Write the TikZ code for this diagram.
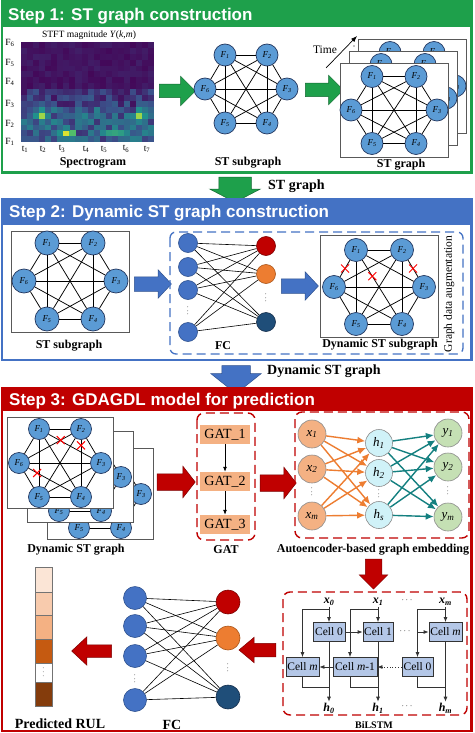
\documentclass[tikz,border=0pt]{standalone}
\usepackage{fontspec}
\setmainfont{Liberation Serif}
\setsansfont{Liberation Sans}
\usetikzlibrary{shapes.arrows,shapes.misc,arrows.meta}
\definecolor{sgreen}{RGB}{30,160,75}
\definecolor{sgreenD}{RGB}{20,105,50}
\definecolor{sblue}{RGB}{68,114,196}
\definecolor{sblueD}{RGB}{47,82,143}
\definecolor{sred}{RGB}{192,0,0}
\definecolor{sredD}{RGB}{125,0,0}
\definecolor{nblue}{RGB}{91,155,213}
\definecolor{nline}{RGB}{35,55,95}
\definecolor{salmon}{RGB}{244,177,131}
\definecolor{aorange}{RGB}{237,125,49}
\definecolor{ateal}{RGB}{20,128,128}
\definecolor{hcyan}{RGB}{208,242,248}
\definecolor{ygreen}{RGB}{197,224,180}
\definecolor{dblue}{RGB}{31,78,121}
\definecolor{cellblue}{RGB}{180,199,231}
\definecolor{vc0}{RGB}{68,1,84}
\definecolor{vc1}{RGB}{59,82,139}
\definecolor{vc2}{RGB}{33,145,140}
\definecolor{vc3}{RGB}{94,201,98}
\definecolor{vc4}{RGB}{253,231,37}
\definecolor{rul1}{RGB}{251,229,214}
\definecolor{rul2}{RGB}{248,203,173}
\definecolor{rul3}{RGB}{244,177,131}
\definecolor{rul4}{RGB}{197,90,17}
\definecolor{rul6}{RGB}{132,60,12}
\newcommand\fsz[1]{\fontsize{#1}{#1}\selectfont}
\newcommand\specset[1]{%
  \ifdim#1pt<0.25pt
    \pgfmathsetmacro\spp{#1*400}\colorlet{spec}{vc1!\spp!vc0}%
  \else\ifdim#1pt<0.5pt
    \pgfmathsetmacro\spp{(#1-0.25)*400}\colorlet{spec}{vc2!\spp!vc1}%
  \else\ifdim#1pt<0.75pt
    \pgfmathsetmacro\spp{(#1-0.5)*400}\colorlet{spec}{vc3!\spp!vc2}%
  \else
    \pgfmathsetmacro\spp{min(100,(#1-0.75)*400)}\colorlet{spec}{vc4!\spp!vc3}%
  \fi\fi\fi}
\tikzset{
  hdr/.style={anchor=base west, text=white, font=\sffamily\bfseries\fsz{17}, inner sep=0pt},
  lbl/.style={font=\bfseries\fsz{12}, inner sep=0pt},
  biglbl/.style={font=\bfseries\fsz{14}, inner sep=0pt},
  tick/.style={font=\fsz{9.5}, inner sep=0pt},
  fnode/.style={circle, fill=nblue, draw=nline, line width=0.7pt, minimum size=21pt, inner sep=0pt, font=\itshape\fsz{9}},
  gedge/.style={line width=0.75pt, black},
  framebox/.style={draw=black!65, fill=white, line width=0.7pt},
  xmark/.style={cross out, draw=red, line width=1pt, minimum size=7pt, inner sep=0pt},
  garrow/.style={single arrow, fill=sgreen, draw=sgreenD, line width=0.5pt, inner sep=0pt},
  barrow/.style={single arrow, fill=sblue, draw=sblueD, line width=0.5pt, inner sep=0pt},
  rarrow/.style={single arrow, fill=sred, draw=sredD, line width=0.5pt, inner sep=0pt},
  bdash/.style={draw=sblue, line width=1.3pt, dash pattern=on 9pt off 5pt, rounded corners=6pt},
  rdash/.style={draw=sred, line width=1.4pt, dash pattern=on 9pt off 5pt, rounded corners=7pt},
  fcl/.style={circle, fill=sblue, draw=sblueD, line width=0.6pt, minimum size=19pt, inner sep=0pt},
  fcedge/.style={line width=0.6pt, black},
  gatbox/.style={fill=salmon, minimum width=50pt, minimum height=19pt, inner sep=0pt, font=\fsz{14}},
  aex/.style={circle, fill=salmon, draw=black!45, line width=0.6pt, minimum size=28pt, inner sep=0pt, font=\itshape\fsz{13}},
  aeh/.style={aex, fill=hcyan, minimum size=27pt},
  aey/.style={aex, fill=ygreen},
  oarr/.style={aorange, line width=1.4pt, -{Latex[length=8pt,width=7pt]}},
  tarr/.style={ateal, line width=1.4pt, -{Latex[length=8pt,width=7pt]}},
  cellb/.style={draw=black!80, fill=cellblue, line width=0.8pt, minimum height=19pt, inner sep=0pt, font=\fsz{11.5}},
  lstm/.style={line width=0.8pt, black!80},
  iolbl/.style={font=\bfseries\itshape\fsz{12}, inner sep=1pt},
  dotsl/.style={font=\fsz{9}, inner sep=0pt},
  vdotsl/.style={font=\fsz{8}, inner sep=0pt, rotate=90},
}
\newcommand\stg[7]{%
  \node[fnode, minimum size=#7pt] (#1a) at ({#2-#4},{#3-#6}) {F\textsubscript{1}};
  \node[fnode, minimum size=#7pt] (#1b) at ({#2+#4},{#3-#6}) {F\textsubscript{2}};
  \node[fnode, minimum size=#7pt] (#1c) at ({#2+#5},{#3}) {F\textsubscript{3}};
  \node[fnode, minimum size=#7pt] (#1d) at ({#2+#4},{#3+#6}) {F\textsubscript{4}};
  \node[fnode, minimum size=#7pt] (#1e) at ({#2-#4},{#3+#6}) {F\textsubscript{5}};
  \node[fnode, minimum size=#7pt] (#1f) at ({#2-#5},{#3}) {F\textsubscript{6}};
  \foreach \gA/\gB in {a/b,b/c,c/d,d/e,e/f,f/a,a/c,a/d,a/e,b/d,b/e,b/f,c/e,c/f,d/f}
    {\draw[gedge] (#1\gA) -- (#1\gB);}%
}
\begin{document}
\begin{tikzpicture}[x=1pt,y=-1pt,>={Latex[length=5pt,width=4pt]}]
\useasboundingbox (0,0) rectangle (474,733);
\fill[white] (0,0) rectangle (474,733);

%% ================= STEP 1 =================
\draw[sgreen, line width=2.4pt] (2,1.5) rectangle (471.5,172.5);
\fill[sgreen] (0.8,0.3) rectangle (472.7,27);
\node[hdr] (hd1) at (8,20.7) {Step 1: ST graph construction};

% spectrogram
\pgfmathsetseed{42}
\foreach \ci in {0,...,21}{
  \foreach \cj in {0,...,16}{
    \pgfmathsetmacro\tv{\cj<8 ? 0.02+0.07*rnd : (\cj<11 ? 0.05+0.25*rnd : 0.15+0.3*rnd)}
    \specset{\tv}
    \fill[spec] ({21+\ci*6.05},{42+\cj*5.9}) rectangle ++(6.15,6.0);
  }
}
\foreach \ci/\cj/\tv in {3/12/0.85, 3/11/0.5, 2/12/0.5, 4/12/0.45, 3/13/0.42, 7/15/0.95, 8/15/0.7, 6/15/0.5, 7/14/0.45,
  19/12/0.85, 19/11/0.5, 18/12/0.45, 20/12/0.5, 19/13/0.45, 14/15/0.56, 15/15/0.58, 16/15/0.55, 13/15/0.46, 17/15/0.45}{
  \specset{\tv}
  \fill[spec] ({21+\ci*6.05},{42+\cj*5.9}) rectangle ++(6.15,6.0);
}
\node[font=\fsz{9.6}, inner sep=0pt] (stft) at (89,35) {STFT magnitude \textit{Y}(\textit{k},\textit{m})};
\foreach \k/\yy in {6/43,5/63,4/82,3/104,2/124,1/142} \node[tick] (fl\k) at (10,\yy) {F\textsubscript{\k}};
\foreach \k/\xx in {1/25,2/43,3/62,4/86,5/104,6/126,7/147} \node[tick] (tl\k) at (\xx,149) {t\textsubscript{\k}};
\node[lbl] (lspec) at (93,163) {Spectrogram};

\node[garrow, minimum height=36pt, inner ysep=6.5pt, single arrow head extend=8pt] (ga1) at (174,91) {};

\stg{sa}{246}{89}{21}{41}{34}{22}
\node[lbl] (lsa) at (248,163) {ST subgraph};

\node[garrow, minimum height=38pt, inner ysep=6.5pt, single arrow head extend=8pt] (ga2) at (321,90) {};

\filldraw[framebox] (358,39) rectangle ++(108,94);
\stg{gk}{412}{86}{22}{43}{33.5}{22}
\filldraw[framebox] (349,51) rectangle ++(108,94);
\stg{gm}{403}{98}{22}{43}{33.5}{22}
\filldraw[framebox] (340,63) rectangle ++(108,94);
\stg{gf}{394}{110}{22}{43}{33.5}{22}
\coordinate (tm0) at (326,68);
\coordinate (tm1) at (357,36);
\draw[line width=0.7pt, -{Latex[length=6pt,width=4.5pt]}] (tm0) -- (tm1);
\node[font=\fsz{11.5}, inner sep=0pt] (ltime) at (325,50) {Time};
\fill (354,41) circle (0.7) (354,46) circle (0.7);
\node[lbl] (lsg) at (401,165) {ST graph};

% between 1 and 2
\node[garrow, rotate=-90, minimum height=25pt, inner ysep=16pt, single arrow head extend=9pt, single arrow tip angle=125] (gd) at (235,185.5) {};
\node[biglbl, anchor=west] (lstg) at (268,186) {ST graph};

%% ================= STEP 2 =================
\draw[sblue, line width=2.4pt] (2,199.5) rectangle (471.5,360);
\fill[sblue] (0.8,198.3) rectangle (472.7,225);
\node[hdr] (hd2) at (9,217.5) {Step 2: Dynamic ST graph construction};

\draw[framebox] (11,231) rectangle (129,332);
\stg{sb}{70}{281}{23}{46}{38}{24}
\node[lbl] (lsb) at (69,346) {ST subgraph};

\node[barrow, minimum height=37pt, inner ysep=7pt, single arrow head extend=7pt, single arrow tip angle=94] (ba1) at (149.5,284) {};

\draw[bdash] (170,232) rectangle (463,354);
\foreach \nm/\yy in {la/243, lb/267, lc/290, ld/332} \node[fcl] (\nm) at (188,\yy) {};
\node[vdotsl] (ldots) at (188,311) {$\cdots$};
\node[fcl, fill=sred, draw=sredD] (ra) at (266,246) {};
\node[fcl, fill=aorange, draw={rgb,255:red,170;green,85;blue,25}] (rb) at (266,274) {};
\node[fcl, fill=dblue, draw={rgb,255:red,20;green,45;blue,75}] (rc) at (266,322) {};
\node[vdotsl] (rdots) at (266,298) {$\cdots$};
\foreach \aS in {la,lb,lc,ld} \foreach \aT in {ra,rb,rc} \draw[fcedge] (\aS) -- (\aT);
\node[lbl] (lfc) at (223,346) {FC};

\node[barrow, minimum height=37pt, inner ysep=7pt, single arrow head extend=7pt, single arrow tip angle=94] (ba2) at (296.5,286) {};

\draw[framebox] (320,235) rectangle (438,337);
\stg{dy}{379}{287}{23}{45}{37}{23}
\path (dyf) -- node[xmark, pos=0.5]{} (dya);
\path (dya) -- node[xmark, pos=0.3]{} (dyd);
\path (dyb) -- node[xmark, pos=0.5]{} (dyc);
\node[lbl] (ldy) at (380,345) {Dynamic ST subgraph};
\node[font=\fsz{11.5}, inner sep=0pt, rotate=90] (laug) at (449,294) {Graph data augmentation};

% between 2 and 3
\node[barrow, rotate=-90, minimum height=28pt, inner ysep=14pt, single arrow head extend=11pt, single arrow tip angle=103] (bd) at (236,374) {};
\node[biglbl, anchor=west] (ldsg) at (267,371) {Dynamic ST graph};

%% ================= STEP 3 =================
\draw[sred, line width=2.4pt] (2,388) rectangle (471.5,731);
\fill[sred] (0.8,386.8) rectangle (472.7,411);
\node[hdr] (hd3) at (9,405.5) {Step 3: GDAGDL model for prediction};

\filldraw[framebox] (47,448) rectangle ++(106,91);
\stg{pk}{100}{494}{21}{41}{34}{21}
\filldraw[framebox] (27,431) rectangle ++(106,91);
\stg{pm}{80}{477}{21}{41}{34}{21}
\filldraw[framebox] (7,417) rectangle ++(106,91);
\stg{pf}{60}{463}{21}{41}{34}{21}
\path (pfb) -- node[xmark, pos=0.25]{} (pff);
\path (pfb) -- node[xmark, pos=0.12]{} (pfd);
\path (pff) -- node[xmark, pos=0.2]{} (pfd);
\node[lbl] (ldsg3) at (76,550) {Dynamic ST graph};

\node[rarrow, minimum height=38pt, inner ysep=8pt, single arrow head extend=7.5pt, single arrow tip angle=104] (ra1) at (173,482) {};

\draw[rdash] (197,413) rectangle (255,540);
\node[gatbox] (g1) at (225,434.5) {GAT\_1};
\node[gatbox] (g2) at (225,481.5) {GAT\_2};
\node[gatbox] (g3) at (225,524.5) {GAT\_3};
\draw[line width=0.8pt, ->] (g1) -- (g2);
\draw[line width=0.8pt, ->] (g2) -- (g3);
\node[lbl] (lgat) at (226,550) {GAT};

\node[rarrow, minimum height=36pt, inner ysep=8pt, single arrow head extend=7.5pt, single arrow tip angle=104] (ra2) at (275,483) {};

\draw[rdash] (295,412) rectangle (469,538);
\node[aex] (xa) at (312,434) {x\textsubscript{1}};
\node[aex] (xb) at (312,469) {x\textsubscript{2}};
\node[aex] (xc) at (312,516) {x\textsubscript{\itshape m}};
\node[vdotsl] (xdots) at (312,492) {$\cdots$};
\node[aeh] (ha) at (379,443) {h\textsubscript{1}};
\node[aeh] (hb) at (379,473) {h\textsubscript{2}};
\node[aeh] (hc) at (379,515) {h\textsubscript{\itshape s}};
\node[vdotsl] (hdots) at (379,494) {$\cdots$};
\node[aey] (ya) at (448,433) {y\textsubscript{1}};
\node[aey] (yb) at (448,467) {y\textsubscript{2}};
\node[aey] (yc) at (448,517) {y\textsubscript{\itshape m}};
\node[vdotsl] (ydots) at (448,491) {$\cdots$};
\foreach \aS in {xa,xb,xc} \foreach \aT in {ha,hb,hc} \draw[oarr] (\aS) -- (\aT);
\foreach \aS in {ha,hb,hc} \foreach \aT in {ya,yb,yc} \draw[tarr] (\aS) -- (\aT);
\node[lbl] (lae) at (373,550) {Autoencoder-based graph embedding};

\node[rarrow, rotate=-90, minimum height=30pt, inner ysep=8pt, single arrow head extend=6pt, single arrow tip angle=90] (rd) at (373.5,570) {};

% BiLSTM
\draw[rdash] (283,592) rectangle (467,715);
\node[cellb, minimum width=32pt] (c0t) at (329,632) {Cell 0};
\node[cellb, minimum width=30pt] (c1t) at (378,632) {Cell 1};
\node[cellb, minimum width=33pt] (cmt) at (445.5,632) {Cell \textit{m}};
\node[cellb, minimum width=33pt] (cmb) at (302.5,667) {Cell \textit{m}};
\node[cellb, minimum width=44pt] (cm1b) at (355,667) {Cell \textit{m}-1};
\node[cellb, minimum width=31pt] (c0b) at (417.5,667) {Cell 0};
\node[iolbl] (lx0) at (329,602) {x\textsubscript{0}};
\node[iolbl] (lx1) at (378,602) {x\textsubscript{1}};
\node[iolbl] (lxm) at (445.5,602) {x\textsubscript{\itshape m}};
\node[dotsl] (xdl) at (407,600) {$\cdots$};
\node[iolbl] (lh0) at (329,708) {h\textsubscript{0}};
\node[iolbl] (lh1) at (378,708) {h\textsubscript{1}};
\node[iolbl] (lhm) at (445.5,708) {h\textsubscript{\itshape m}};
\node[dotsl] (hdl) at (407,706) {$\cdots$};
\node[dotsl] (cdl) at (405,631) {$\cdots$};
\coordinate (bx0) at (329,609);
\coordinate (bx1) at (378,609);
\coordinate (bxm) at (445.5,609);
\coordinate (j0) at (329,687);
\coordinate (j1) at (378,687);
\coordinate (jm) at (445.5,687);
\coordinate (tdot) at (417,632);
\coordinate (bdot) at (383,667);
\draw[lstm, ->] (lx0) -- (c0t);
\draw[lstm, ->] (lx1) -- (c1t);
\draw[lstm, ->] (lxm) -- (cmt);
\draw[lstm, ->] (bx0) -| (cmb.north);
\draw[lstm, ->] (bx1) -| ([xshift=-5pt]cm1b.north);
\draw[lstm, ->] (bxm) -| (c0b.north);
\draw[lstm, ->] (c0t) -- (lh0);
\draw[lstm, ->] (c1t) -- (lh1);
\draw[lstm, ->] (cmt) -- (lhm);
\draw[lstm] (cmb.south) |- (j0);
\draw[lstm] ([xshift=-5pt]cm1b.south) |- (j1);
\draw[lstm] (c0b.south) |- (jm);
\draw[lstm, ->] (c0t) -- (c1t);
\draw[lstm, ->] (tdot) -- (cmt);
\draw[lstm, dotted] (c0b) -- (bdot);
\draw[lstm, ->] (bdot) -- (cm1b);
\draw[lstm, ->] (cm1b) -- (cmb);
\node[font=\bfseries\fsz{10}, inner sep=0pt] (lbil) at (374,725) {BiLSTM};

\node[rarrow, rotate=180, minimum height=37pt, inner ysep=6.5pt, single arrow head extend=6pt, single arrow tip angle=80] (rl1) at (261.5,650) {};

% FC step 3
\foreach \nm/\yy in {pa/598, pb/626, pc/656, pd/700} \node[fcl, minimum size=23pt] (\nm) at (135,\yy) {};
\node[vdotsl] (pdots) at (135,679) {$\cdots$};
\node[fcl, minimum size=24pt, fill=sred, draw=sredD] (qa) at (228,602) {};
\node[fcl, minimum size=24pt, fill=aorange, draw={rgb,255:red,170;green,85;blue,25}] (qb) at (228,638) {};
\node[fcl, minimum size=24pt, fill=dblue, draw={rgb,255:red,20;green,45;blue,75}] (qc) at (228,697) {};
\node[vdotsl] (qdots) at (228,668) {$\cdots$};
\foreach \aS in {pa,pb,pc,pd} \foreach \aT in {qa,qb,qc} \draw[fcedge] (\aS) -- (\aT);
\node[biglbl] (lfc3) at (172,725) {FC};

\node[rarrow, rotate=180, minimum height=40pt, inner ysep=6pt, single arrow head extend=8pt, single arrow tip angle=86] (rl2) at (95,651) {};

% RUL bar
\foreach \ya/\yb/\cc in {567/592/rul1, 592/615/rul2, 615/639/rul3, 639/663/rul4, 663/682/white, 682/706/rul6}
  \filldraw[fill=\cc, draw=black!55, line width=0.5pt] (35,\ya) rectangle (52,\yb);
\node[vdotsl, font=\fsz{7}] (rdots) at (43.5,672.5) {$\cdots$};
\node[biglbl] (lrul) at (60,724) {Predicted RUL};
\end{tikzpicture}
\end{document}
